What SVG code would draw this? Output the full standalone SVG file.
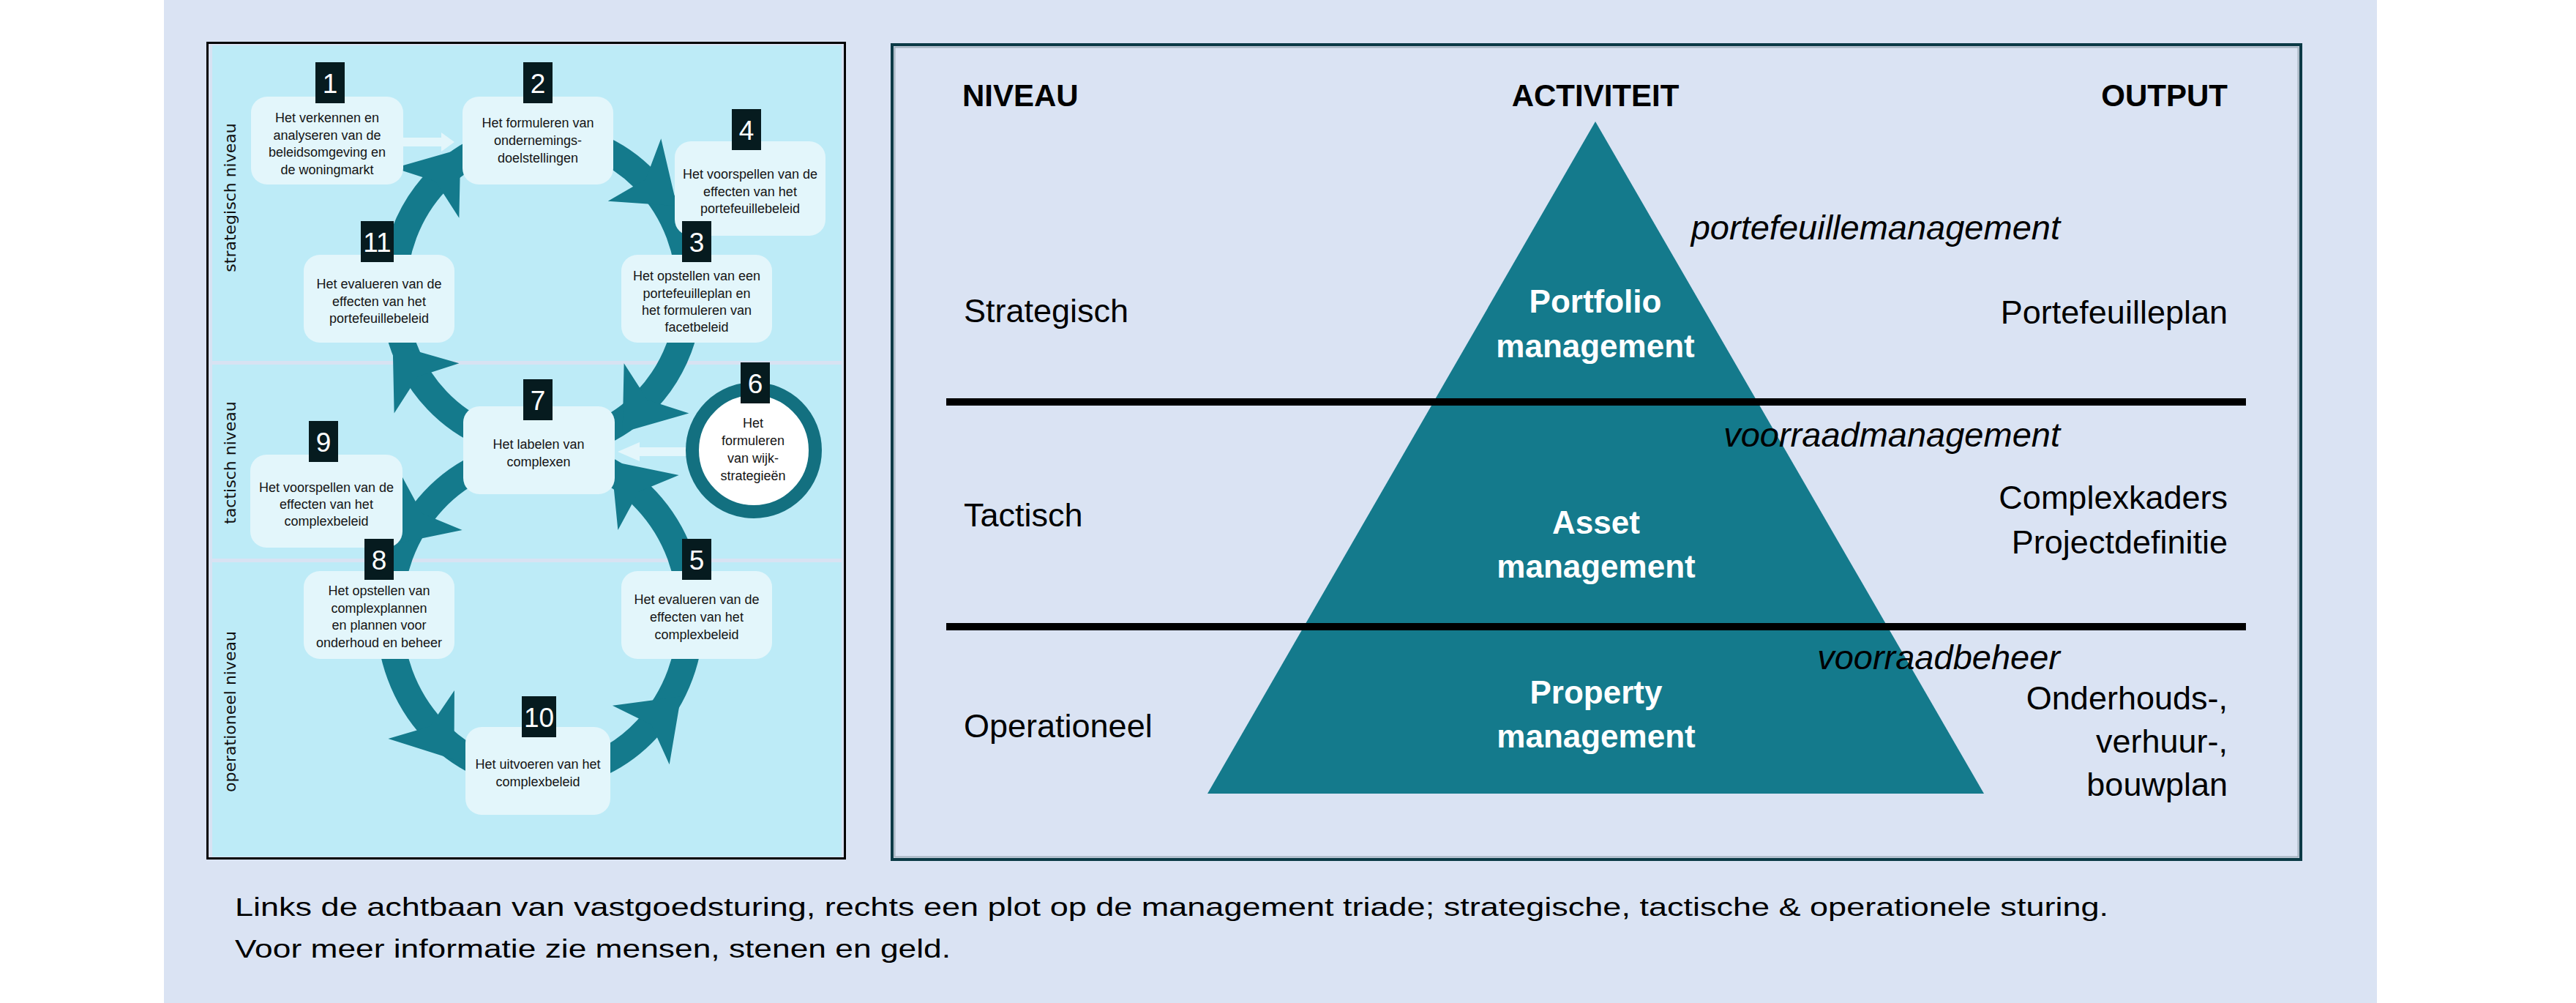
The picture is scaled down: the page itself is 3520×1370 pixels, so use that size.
<svg xmlns="http://www.w3.org/2000/svg" width="3520" height="1370" viewBox="0 0 3520 1370">
<style>
.box{fill:#e3f6fb}
.band{fill:#bdebf7}
.num{fill:#061b1f}
.numt{font-family:"Liberation Sans",Arial,sans-serif;font-size:37px;fill:#fff;text-anchor:middle}
.bt{font-family:"Liberation Sans",Arial,sans-serif;font-size:18px;fill:#141414;text-anchor:middle}
.lvl{font-family:"DejaVu Sans",Verdana,sans-serif;font-size:22px;fill:#111;text-anchor:middle}
.arc{fill:none;stroke:#147a8c;stroke-width:36}
.ah{fill:#147a8c}
.wa{fill:#e3f6fb}
.hd{font-family:"Liberation Sans",Arial,sans-serif;font-size:42px;font-weight:bold;fill:#000}
.rt{font-family:"Liberation Sans",Arial,sans-serif;font-size:45px;fill:#000}
.it{font-family:"Liberation Sans",Arial,sans-serif;font-size:47px;font-style:italic;fill:#000;text-anchor:end}
.wt{font-family:"Liberation Sans",Arial,sans-serif;font-size:44px;font-weight:bold;fill:#fff;text-anchor:middle}
.fn{font-family:"Liberation Sans",Arial,sans-serif;font-size:35px;fill:#000}
</style>
<defs>
<polygon id="ah" points="76,0 0,-56 20,0 0,56"/>
</defs>
<rect x="0" y="0" width="3520" height="1370" fill="#ffffff"/>
<rect x="224" y="0" width="3024" height="1370" fill="#dae3f3"/>

<g id="left-panel">
<rect x="283.5" y="58.5" width="871" height="1114" fill="#d8e2f2" stroke="#000" stroke-width="3"/>
<rect class="band" x="290" y="62" width="860" height="431"/>
<rect class="band" x="290" y="498" width="860" height="265"/>
<rect class="band" x="290" y="768" width="860" height="402"/>
<text class="lvl" transform="translate(322,270) rotate(-90)">strategisch niveau</text>
<text class="lvl" transform="translate(322,632) rotate(-90)">tactisch niveau</text>
<text class="lvl" transform="translate(322,972) rotate(-90)">operationeel niveau</text>
</g>

<g id="connectors">
<ellipse class="arc" cx="740" cy="397" rx="202" ry="212"/>
<ellipse class="arc" cx="738" cy="840" rx="206" ry="221"/>
<use href="#ah" class="ah" transform="translate(583,263.6) rotate(-52.4)"/>
<use href="#ah" class="ah" transform="translate(867,232) rotate(40.4)"/>
<use href="#ah" class="ah" transform="translate(897,530.4) rotate(127.6)"/>
<use href="#ah" class="ah" transform="translate(583,530.4) rotate(232.4)"/>
<use href="#ah" class="ah" transform="translate(590,686.5) rotate(132)"/>
<use href="#ah" class="ah" transform="translate(886,686.5) rotate(228)"/>
<use href="#ah" class="ah" transform="translate(575.7,976) rotate(53.9)"/>
<use href="#ah" class="ah" transform="translate(875.8,1004) rotate(-44)"/>
<polygon class="wa" points="551,188 603,188 603,181 621,194 603,207 603,200 551,200"/>
<polygon class="wa" points="950,611 874,611 874,604 844,617 874,630 874,623 950,623"/>
</g>

<g id="node-6">
<circle cx="1030" cy="615" r="84" fill="#ffffff" stroke="#137080" stroke-width="18"/>
<rect class="num" x="1012" y="495" width="40" height="56"/>
<text class="numt" x="1032" y="537">6</text>
<text class="bt" x="1029" y="584">Het</text>
<text class="bt" x="1029" y="608">formuleren</text>
<text class="bt" x="1029" y="632">van wijk-</text>
<text class="bt" x="1029" y="656">strategieën</text>
</g>

<g id="node-1">
<rect class="box" x="343" y="132" width="208" height="120" rx="22"/>
<rect class="num" x="431" y="85" width="40" height="56"/>
<text class="numt" x="451" y="127">1</text>
<text class="bt" x="447" y="167">Het verkennen en</text>
<text class="bt" x="447" y="191">analyseren van de</text>
<text class="bt" x="447" y="214">beleidsomgeving  en</text>
<text class="bt" x="447" y="238">de woningmarkt</text>
</g>

<g id="node-2">
<rect class="box" x="632" y="132" width="206" height="120" rx="22"/>
<rect class="num" x="715" y="85" width="40" height="56"/>
<text class="numt" x="735" y="127">2</text>
<text class="bt" x="735" y="174">Het formuleren van</text>
<text class="bt" x="735" y="198">ondernemings-</text>
<text class="bt" x="735" y="222">doelstellingen</text>
</g>

<g id="node-4">
<rect class="box" x="922" y="193" width="206" height="129" rx="22"/>
<rect class="num" x="1000" y="149" width="40" height="56"/>
<text class="numt" x="1020" y="191">4</text>
<text class="bt" x="1025" y="244">Het voorspellen van de</text>
<text class="bt" x="1025" y="268">effecten van het</text>
<text class="bt" x="1025" y="291">portefeuillebeleid</text>
</g>

<g id="node-11">
<rect class="box" x="415" y="348" width="206" height="120" rx="22"/>
<rect class="num" x="493" y="302" width="45" height="56"/>
<text class="numt" x="515.5" y="344">11</text>
<text class="bt" x="518" y="394">Het evalueren van de</text>
<text class="bt" x="518" y="418">effecten van het</text>
<text class="bt" x="518" y="441">portefeuillebeleid</text>
</g>

<g id="node-3">
<rect class="box" x="849" y="348" width="206" height="120" rx="22"/>
<rect class="num" x="932" y="302" width="40" height="56"/>
<text class="numt" x="952" y="344">3</text>
<text class="bt" x="952" y="383">Het opstellen van een</text>
<text class="bt" x="952" y="407">portefeuilleplan en</text>
<text class="bt" x="952" y="430">het formuleren van</text>
<text class="bt" x="952" y="453">facetbeleid</text>
</g>

<g id="node-7">
<rect class="box" x="633" y="555" width="207" height="120" rx="22"/>
<rect class="num" x="715" y="518" width="40" height="56"/>
<text class="numt" x="735" y="560">7</text>
<text class="bt" x="736" y="613">Het labelen van</text>
<text class="bt" x="736" y="637">complexen</text>
</g>

<g id="node-9">
<rect class="box" x="342" y="621" width="208" height="127" rx="22"/>
<rect class="num" x="422" y="575" width="40" height="56"/>
<text class="numt" x="442" y="617">9</text>
<text class="bt" x="446" y="672">Het voorspellen van de</text>
<text class="bt" x="446" y="695">effecten van het</text>
<text class="bt" x="446" y="718">complexbeleid</text>
</g>

<g id="node-8">
<rect class="box" x="415" y="780" width="206" height="120" rx="22"/>
<rect class="num" x="498" y="736" width="40" height="56"/>
<text class="numt" x="518" y="778">8</text>
<text class="bt" x="518" y="813">Het opstellen van</text>
<text class="bt" x="518" y="837">complexplannen</text>
<text class="bt" x="518" y="860">en plannen voor</text>
<text class="bt" x="518" y="884">onderhoud en beheer</text>
</g>

<g id="node-5">
<rect class="box" x="849" y="780" width="206" height="120" rx="22"/>
<rect class="num" x="932" y="736" width="40" height="56"/>
<text class="numt" x="952" y="778">5</text>
<text class="bt" x="952" y="825">Het evalueren van de</text>
<text class="bt" x="952" y="849">effecten van het</text>
<text class="bt" x="952" y="873">complexbeleid</text>
</g>

<g id="node-10">
<rect class="box" x="636" y="993" width="198" height="120" rx="22"/>
<rect class="num" x="713" y="951" width="47" height="56"/>
<text class="numt" x="736.5" y="993">10</text>
<text class="bt" x="735" y="1050">Het uitvoeren van het</text>
<text class="bt" x="735" y="1074">complexbeleid</text>
</g>

<g id="right-panel">
<rect x="1219" y="61" width="1925" height="1113" fill="none" stroke="#0b3a46" stroke-width="4"/>
<rect x="1222.5" y="64.5" width="1918" height="1106" fill="none" stroke="#a3b1bd" stroke-width="2"/>
<polygon points="2180,166 2711,1084 1650,1084" fill="#147a8c"/>
<rect x="1293" y="544" width="1776" height="10" fill="#000"/>
<rect x="1293" y="851" width="1776" height="10" fill="#000"/>
<text class="hd" x="1315" y="145">NIVEAU</text>
<text class="hd" x="2180" y="145" text-anchor="middle">ACTIVITEIT</text>
<text class="hd" x="3044" y="145" text-anchor="end">OUTPUT</text>
<text class="it" x="2815" y="327">portefeuillemanagement</text>
<text class="it" x="2815" y="610">voorraadmanagement</text>
<text class="it" x="2815" y="914">voorraadbeheer</text>
<text class="rt" x="1317" y="440">Strategisch</text>
<text class="rt" x="1317" y="719">Tactisch</text>
<text class="rt" x="1317" y="1007">Operationeel</text>
<text class="rt" x="3044" y="442" text-anchor="end">Portefeuilleplan</text>
<text class="rt" x="3044" y="695" text-anchor="end">Complexkaders</text>
<text class="rt" x="3044" y="756" text-anchor="end">Projectdefinitie</text>
<text class="rt" x="3044" y="969" text-anchor="end">Onderhouds-,</text>
<text class="rt" x="3044" y="1028" text-anchor="end">verhuur-,</text>
<text class="rt" x="3044" y="1087" text-anchor="end">bouwplan</text>
<text class="wt" x="2180" y="427">Portfolio</text>
<text class="wt" x="2180" y="488">management</text>
<text class="wt" x="2181" y="729">Asset</text>
<text class="wt" x="2181" y="789">management</text>
<text class="wt" x="2181" y="961">Property</text>
<text class="wt" x="2181" y="1021">management</text>
</g>

<g id="caption">
<text class="fn" x="321" y="1251" textLength="2560" lengthAdjust="spacingAndGlyphs">Links de achtbaan van vastgoedsturing, rechts een plot op de management triade; strategische, tactische &amp; operationele sturing.</text>
<text class="fn" x="321" y="1308" textLength="978" lengthAdjust="spacingAndGlyphs">Voor meer informatie zie mensen, stenen en geld.</text>
</g>
</svg>
